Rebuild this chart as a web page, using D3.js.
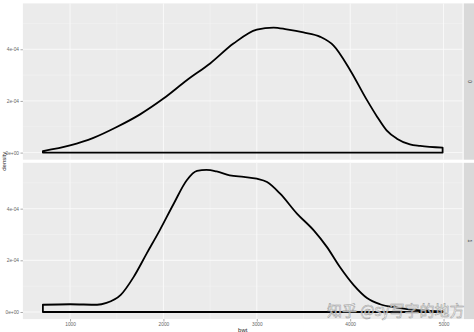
<!DOCTYPE html>
<html><head><meta charset="utf-8">
<script src="https://cdn.jsdelivr.net/npm/d3@7"></script>
<style>body{margin:0;background:#fff}svg{display:block}</style>
</head><body>
<script>
// ---- data (bwt in grams, density in units of 1e-4) ----
const panels = ["0", "1"];
const bwt0 = [709, 1000, 1250, 1500, 1750, 2000, 2250, 2500, 2750, 3000, 3180, 3320, 3500, 3680, 3820, 4000, 4180, 4290, 4390, 4500, 4640, 4750, 4990];
const dens0 = [0.06, 0.28, 0.57, 0.99, 1.48, 2.09, 2.80, 3.45, 4.22, 4.76, 4.84, 4.77, 4.65, 4.48, 4.15, 3.19, 2.03, 1.38, 0.86, 0.54, 0.32, 0.26, 0.19];
const bwt1 = [709, 1000, 1290, 1390, 1540, 1680, 1820, 1960, 2110, 2250, 2360, 2460, 2570, 2710, 2860, 3000, 3110, 3250, 3430, 3610, 3750, 3890, 4040, 4180, 4320, 4500, 4750, 4990];
const dens1 = [0.28, 0.30, 0.28, 0.35, 0.65, 1.35, 2.26, 3.16, 4.19, 5.10, 5.46, 5.50, 5.44, 5.29, 5.23, 5.16, 5.03, 4.58, 3.81, 3.16, 2.52, 1.74, 1.03, 0.54, 0.30, 0.17, 0.06, 0.03];
const xTicks = [1000, 2000, 3000, 4000, 5000];
const xMinor = [1500, 2500, 3500, 4500];
const yTicks = [0, 2e-4, 4e-4];
const yTickLabels = ["0e+00", "2e-04", "4e-04"];
const yMinor = [1e-4, 3e-4, 5e-4];
const xLabel = "bwt", yLabel = "density";
const watermark = "知乎 @sy写字的地方";

const W = 474, H = 332;
const svg = d3.select("body").append("svg").attr("width", W).attr("height", H);
const font = "Liberation Sans, Arial, sans-serif";

const series = [
  bwt0.map((b, i) => ({x: b, y: dens0[i] * 1e-4})),
  bwt1.map((b, i) => ({x: b, y: dens1[i] * 1e-4}))
];
const xmin = d3.min([...bwt0, ...bwt1]), xmax = d3.max([...bwt0, ...bwt1]);
const xpad = (xmax - xmin) * 0.05;
const ymax = d3.max(series.flat(), d => d.y);
const ypad = ymax * 0.05;

const left = 22.9, right = 462.6;
const panelTop = [3.4, 162.8], panelH = 156.3;
const x = d3.scaleLinear().domain([xmin - xpad, xmax + xpad]).range([left, right]);

panels.forEach((p, pi) => {
  const top = panelTop[pi];
  const y = d3.scaleLinear().domain([-ypad, ymax + ypad]).range([top + panelH, top]);
  const g = svg.append("g");
  g.append("rect").attr("x", left).attr("y", top).attr("width", right - left).attr("height", panelH).attr("fill", "#EBEBEB");
  // minor grid
  g.selectAll(".vmin").data(xMinor).join("line")
    .attr("x1", d => x(d)).attr("x2", d => x(d)).attr("y1", top).attr("y2", top + panelH)
    .attr("stroke", "#F4F4F4").attr("stroke-width", 0.5);
  g.selectAll(".hmin").data(yMinor).join("line")
    .attr("y1", d => y(d)).attr("y2", d => y(d)).attr("x1", left).attr("x2", right)
    .attr("stroke", "#F4F4F4").attr("stroke-width", 0.5);
  // major grid
  g.selectAll(".vmaj").data(xTicks).join("line")
    .attr("x1", d => x(d)).attr("x2", d => x(d)).attr("y1", top).attr("y2", top + panelH)
    .attr("stroke", "#FAFAFA").attr("stroke-width", 0.9);
  g.selectAll(".hmaj").data(yTicks).join("line")
    .attr("y1", d => y(d)).attr("y2", d => y(d)).attr("x1", left).attr("x2", right)
    .attr("stroke", "#FAFAFA").attr("stroke-width", 0.9);
  // y axis
  const ya = d3.axisLeft(y).tickValues(yTicks).tickFormat((d, i) => yTickLabels[i]).tickSize(2.4).tickPadding(1.5);
  const yg = svg.append("g").attr("transform", `translate(${left},0)`).call(ya);
  yg.select(".domain").remove();
  yg.selectAll("line").attr("stroke", "#555").attr("stroke-width", 0.5);
  yg.selectAll("text").attr("fill", "#666").attr("font-size", 4.8).attr("font-family", font);
  // strip
  svg.append("rect").attr("x", right + 1.1).attr("y", top).attr("width", W - right - 1.1).attr("height", panelH).attr("fill", "#D9D9D9");
  svg.append("text").attr("transform", `translate(${right + 5.2},${top + panelH / 2}) rotate(90)`)
    .attr("text-anchor", "middle").attr("font-size", 4.8).attr("fill", "#333").attr("font-family", font)
    .text(p);
  // density outline
  const pts = series[pi];
  const line = d3.line().x(d => x(d.x)).y(d => y(d.y)).curve(d3.curveMonotoneX);
  const curve = line(pts).replace(/^M/, "L");
  const first = pts[0], last = pts[pts.length - 1];
  const d = `M${x(first.x)},${y(0)}` + curve + `L${x(last.x)},${y(0)}Z`;
  svg.append("path").attr("d", d).attr("fill", "none").attr("stroke", "#000").attr("stroke-width", 1.8).attr("stroke-linejoin", "round");
});

// x axis (bottom panel)
const xa = d3.axisBottom(x).tickValues(xTicks).tickFormat(d3.format("d")).tickSize(2.4).tickPadding(1.2);
const xg = svg.append("g").attr("transform", `translate(0,${panelTop[1] + panelH})`).call(xa);
xg.select(".domain").remove();
xg.selectAll("line").attr("stroke", "#555").attr("stroke-width", 0.5);
xg.selectAll("text").attr("fill", "#666").attr("font-size", 4.8).attr("font-family", font);

svg.append("text").attr("x", (left + right) / 2).attr("y", 331.5).attr("text-anchor", "middle")
  .attr("font-size", 6).attr("fill", "#222").attr("font-family", font).text(xLabel);
svg.append("text").attr("transform", `translate(6.3,${(panelTop[0] + panelTop[1] + panelH) / 2}) rotate(-90)`)
  .attr("text-anchor", "middle").attr("font-size", 6).attr("fill", "#222").attr("font-family", font).text(yLabel);

// watermark
svg.append("text").attr("x", 327).attr("y", 316).attr("font-size", 15)
  .attr("font-family", "Noto Sans CJK SC, sans-serif")
  .attr("fill", "#fff").attr("fill-opacity", 0.7).attr("stroke", "#999").attr("stroke-width", 0.5)
  .text(watermark);
</script>
</body></html>
